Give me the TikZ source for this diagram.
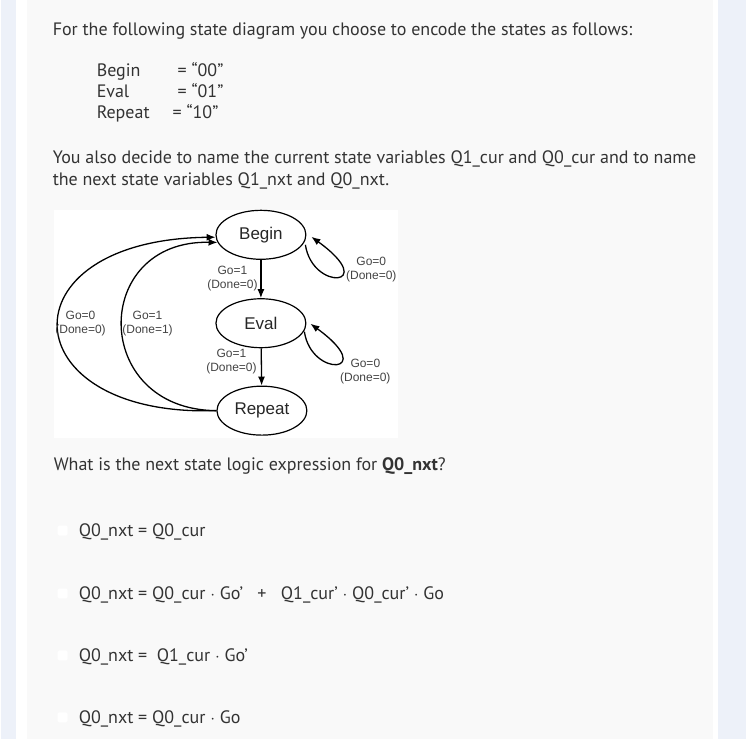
\documentclass[tikz,border=0pt]{standalone}
\usepackage{fontspec}
\setmainfont{PT Sans}
\newfontfamily\diagfont{Liberation Sans}
\usetikzlibrary{arrows.meta,shapes.geometric}
\definecolor{pagebg}{HTML}{EDF1F9}
\definecolor{panelbg}{HTML}{F9F9F9}
\definecolor{inkgray}{HTML}{333333}
\definecolor{lblgray}{HTML}{444444}
\begin{document}
\begin{tikzpicture} [
  x=1pt, y=-1pt,
  txt/.style={anchor=base west, inner sep=0pt, text=inkgray, font=\fontsize{18}{21}\selectfont},
  state/.style={ellipse, draw, line width=1.2pt, minimum width=90pt, minimum height=49pt,
    inner sep=0pt, font=\diagfont\fontsize{17}{20}\selectfont, text=black!85},
  lbl/.style={align=center, inner sep=0pt, text=lblgray, font=\diagfont\fontsize{12}{14.5}\selectfont},
  tr/.style={-{Latex[length=9pt,width=7pt]}, line width=1.3pt}]
% page and panel
\fill[pagebg] (0,0) rectangle (746,740);
\fill[white] (15,0) rectangle (718,740);
\fill[panelbg] (26,0) rectangle (713,740);
% question text
\node[txt] (head) at (52,36) {For the following state diagram you choose to encode the states as follows:};
\node[txt] (encA) at (96,77) {Begin};
\node[txt] (encB) at (96,98) {Eval};
\node[txt] (encC) at (96,119) {Repeat};
\node[txt] (valA) at (177,77) {= “00”};
\node[txt] (valB) at (177,98) {= “01”};
\node[txt] (valC) at (172,119) {= “10”};
\node[txt] (paraA) at (52,164) {You also decide to name the current state variables Q1\_cur and Q0\_cur and to name};
\node[txt] (paraB) at (52,186) {the next state variables Q1\_nxt and Q0\_nxt.};
% diagram
\fill[white] (53,210) rectangle (398,438);
\node[state] (B) at (260.5,235) {Begin};
\node[state] (E) at (260.5,323.5) {Eval};
\node[state] (R) at (261.5,411) {Repeat};
\draw[tr] (B) -- (E);
\draw[tr] (E) -- (R);
\draw[tr] (305,245) .. controls (312,292) and (380,287) .. (311,237);
\draw[tr] (304,332) .. controls (311,379) and (379,374) .. (310,324);
\draw[tr] (R.west) .. controls (10,418) and (0,240) .. (B.183);
\draw[tr] (R.west) .. controls (90,410) and (90,240) .. (B.190);
\node[lbl] (gBE) at (232,279) {Go=1\\(Done=0)};
\node[lbl] (gER) at (231,362) {Go=1\\(Done=0)};
\node[lbl] (gBB) at (371,270) {Go=0\\(Done=0)};
\node[lbl] (gEE) at (365,372) {Go=0\\(Done=0)};
\node[lbl] (gRBo) at (80,324) {Go=0\\(Done=0)};
\node[lbl] (gRBi) at (147,324) {Go=1\\(Done=1)};
% answer
\node[txt] (ask) at (53,471) {What is the next state logic expression for \textbf{Q0\_nxt}?};
\foreach \y in {531,594,656,718}
  \fill[white, rounded corners=1.5pt] (57,\y-5) rectangle (67,\y+5);
\node[txt] (optA) at (78,537) {Q0\_nxt = Q0\_cur};
\node[txt] (optB) at (78,600) {Q0\_nxt = Q0\_cur $\cdot$ Go’ \ \ + \ \ Q1\_cur’ $\cdot$ Q0\_cur’ $\cdot$ Go};
\node[txt] (optC) at (78,662) {Q0\_nxt = \ Q1\_cur $\cdot$ Go’};
\node[txt] (optD) at (78,724) {Q0\_nxt = Q0\_cur $\cdot$ Go};
\end{tikzpicture}
\end{document}
